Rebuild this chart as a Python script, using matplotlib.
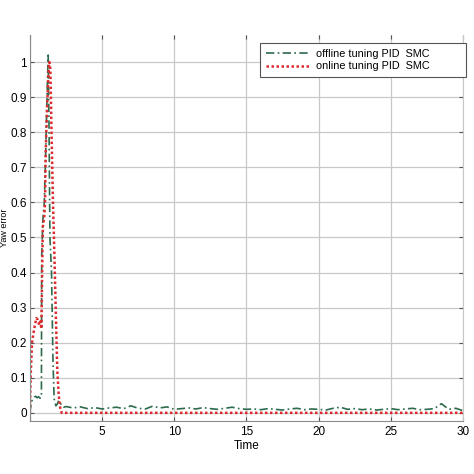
import numpy as np
import matplotlib
matplotlib.use("Agg")
import matplotlib.pyplot as plt

# offline tuning PID SMC (dash-dot green) -- transient part
off_t = [0.0, 0.1, 0.2, 0.3, 0.4, 0.5, 0.6, 0.7, 0.8, 0.82, 0.9, 1.0, 1.1, 1.2,
         1.27, 1.33, 1.39, 1.5, 1.6, 1.68, 1.8, 1.9, 2.0, 2.1, 2.2, 2.35]
off_v = [0.0, 0.03, 0.04, 0.045, 0.047, 0.043, 0.046, 0.042, 0.045, 0.45, 0.55,
         0.6, 0.75, 0.92, 1.02, 0.8, 0.5, 0.4, 0.15, 0.04, 0.02, 0.025, 0.035,
         0.03, 0.02, 0.016]
# steady-state ripple, sampled every 0.5 s from t = 2.5 to 30
off_tail = [0.018, 0.014, 0.017, 0.012, 0.015, 0.011, 0.014, 0.016, 0.012, 0.02,
            0.013, 0.011, 0.019, 0.014, 0.017, 0.01, 0.012, 0.014, 0.011, 0.015,
            0.012, 0.01, 0.013, 0.016, 0.012, 0.01, 0.011, 0.009, 0.012, 0.01,
            0.008, 0.011, 0.013, 0.009, 0.011, 0.01, 0.008, 0.013, 0.016, 0.01,
            0.012, 0.009, 0.011, 0.008, 0.01, 0.012, 0.009, 0.011, 0.013, 0.009,
            0.01, 0.012, 0.026, 0.01, 0.013, 0.006]
tail_t = np.arange(2.5, 30.01, 0.5)

# online tuning PID SMC (dotted red)
on_t = [0.0, 0.05, 0.15, 0.3, 0.45, 0.55, 0.65, 0.72, 0.8, 0.85, 0.9, 1.0, 1.05,
        1.1, 1.2, 1.3, 1.35, 1.42, 1.5, 1.6, 1.7, 1.8, 1.9, 2.0, 2.1, 2.2, 30.0]
on_v = [0.0, 0.1, 0.2, 0.24, 0.27, 0.265, 0.25, 0.26, 0.24, 0.4, 0.53, 0.56, 0.6,
        0.75, 0.88, 0.98, 1.0, 0.98, 0.8, 0.6, 0.45, 0.28, 0.12, 0.05, 0.015,
        0.0, 0.0]

x_ticks = [0, 5, 10, 15, 20, 25, 30]
x_labels = ["", "5", "10", "15", "20", "25", "30"]
y_ticks = [0, 0.1, 0.2, 0.3, 0.4, 0.5, 0.6, 0.7, 0.8, 0.9, 1.0]
y_labels = ["0", "0.1", "0.2", "0.3", "0.4", "0.5", "0.6", "0.7", "0.8", "0.9", "1"]

plt.rcParams.update({
    "font.family": ["Liberation Sans", "DejaVu Sans"],
    "font.size": 8.5,
})

fig = plt.figure(figsize=(4.74, 4.74), dpi=100)
ax = fig.add_axes([0.063, 0.112, 0.914, 0.814])

ax.plot(list(off_t) + list(tail_t), list(off_v) + list(off_tail),
        color="#2e6a4c", linewidth=1.2, linestyle=(0, (5, 2, 1, 2)),
        label="offline tuning PID  SMC")
ax.plot(on_t, on_v, color="#dc2a2e", linewidth=1.8, linestyle=(0, (1, 1)),
        label="online tuning PID  SMC")

ax.set_xlim(0, 30)
ax.set_ylim(-0.023, 1.077)
ax.set_xticks(x_ticks)
ax.set_xticklabels(x_labels)
ax.set_yticks(y_ticks)
ax.set_yticklabels(y_labels)
ax.tick_params(direction="in", length=3, top=True, right=True, color="#555555",
               labelsize=8.5, pad=4)
ax.tick_params(axis="y", pad=2)
ax.grid(True, color="#c8c8c8", linewidth=0.9)
ax.set_axisbelow(True)

for side in ("left", "bottom"):
    ax.spines[side].set_color("#8a8a8a")
ax.spines["right"].set_color("#c8c8c8")
ax.spines["top"].set_visible(False)

ax.set_xlabel("Time", fontsize=8.5, labelpad=1)
fig.text(0.001, 0.52, "Yaw error", rotation=90, ha="left", va="center", fontsize=6.5)

# MATLAB-style legend box: wider than its text, anchored to the top-right corner
leg = ax.legend(loc="upper left", bbox_to_anchor=(0.532, 0.891, 0.475, 0.088),
                mode="expand", borderaxespad=0, fancybox=False, framealpha=1,
                edgecolor="#555555", fontsize=7.8, handlelength=4,
                handletextpad=0.65, borderpad=0.5, labelspacing=0.25)
leg.get_frame().set_linewidth(0.8)

fig.savefig("out.png", dpi=100)
